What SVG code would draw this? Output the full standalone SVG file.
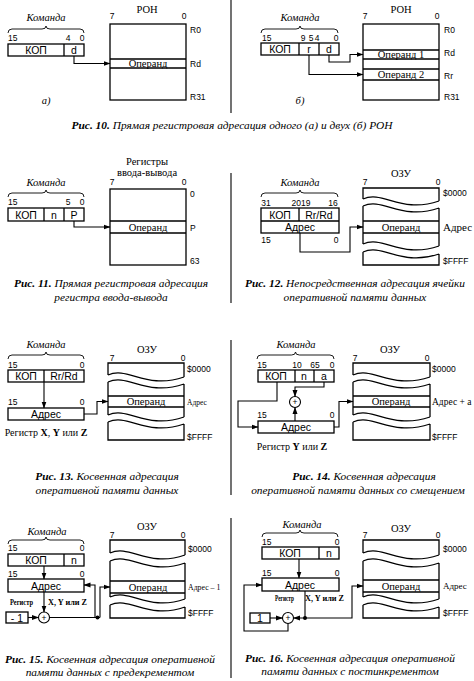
<svg xmlns="http://www.w3.org/2000/svg" width="474" height="681" viewBox="0 0 474 681">
<defs>
<style>
.b{fill:none;stroke:#000;stroke-width:1.3}
.l{fill:none;stroke:#000;stroke-width:1.1}
.br{fill:none;stroke:#000;stroke-width:0.9}
.s{font-family:"Liberation Sans",Arial,sans-serif;font-size:10.5px}
.n{font-family:"Liberation Sans",Arial,sans-serif;font-size:8.5px}
.r{font-family:"Liberation Serif","Times New Roman",serif;font-size:10.5px}
.i{font-family:"Liberation Serif","Times New Roman",serif;font-style:italic;font-size:10.5px}
.c{font-family:"Liberation Serif","Times New Roman",serif;font-style:italic;font-size:11.4px}
.g{font-family:"Liberation Serif","Times New Roman",serif;font-weight:bold;font-size:9px}
.m{text-anchor:middle}
</style>
<marker id="a" markerWidth="7" markerHeight="6" refX="6.5" refY="3" orient="auto" markerUnits="userSpaceOnUse"><path d="M0,0.5 L7,3 L0,5.5z"/></marker>
</defs>
<rect width="474" height="681" fill="#fff"/>

<g id="dividers" class="l">
<path d="M231,0 V113 M231,173 V303 M231,340 V495 M231,518 V678"/>
</g>

<!-- Fig 10 a -->
<g id="cmd10a">
<text class="i m" x="46" y="21">Команда</text>
<path class="br" d="M8,33 Q8,29 12,29 H42 Q46,29 46,26 Q46,29 50,29 H80 Q84,29 84,33"/>
<text class="n" x="8" y="41">15</text>
<text class="n m" x="68" y="41">4</text>
<text class="n m" x="82" y="41">0</text>
<rect class="b" x="8" y="44" width="76" height="12"/>
<path class="b" d="M64,44 V56"/>
<text class="s m" x="36" y="54">КОП</text>
<text class="s m" x="74" y="54">d</text>
</g>
<g id="ron10a">
<text class="r m" x="147" y="13">РОН</text>
<text class="n m" x="112" y="19">7</text>
<text class="n m" x="184" y="19">0</text>
<rect class="b" x="110" y="24" width="76" height="76"/>
<path class="b" d="M110,59 H186 M110,68 H186"/>
<text class="r m" x="148" y="67">Операнд</text>
<text class="n" x="190" y="33">R0</text>
<text class="n" x="190" y="67">Rd</text>
<text class="n" x="190" y="100">R31</text>
<text class="i m" x="46" y="104">а)</text>
</g>

<!-- Fig 10 b -->
<g id="cmd10b">
<text class="i m" x="300" y="21">Команда</text>
<path class="br" d="M261,33 Q261,29 265,29 H296 Q300,29 300,26 Q300,29 304,29 H334 Q338,29 338,33"/>
<text class="n" x="262" y="41">15</text>
<text class="n m" x="303" y="41">9</text>
<text class="n m" x="311" y="41">5</text>
<text class="n m" x="317" y="41">4</text>
<text class="n m" x="336" y="41">0</text>
<rect class="b" x="261" y="43" width="78" height="12"/>
<path class="b" d="M299,43 V55 M319,43 V55"/>
<text class="s m" x="280" y="53">КОП</text>
<text class="s m" x="309" y="53">r</text>
<text class="s m" x="329" y="53">d</text>
</g>
<g id="ron10b">
<text class="r m" x="401" y="13">РОН</text>
<text class="n m" x="365" y="19">7</text>
<text class="n m" x="437" y="19">0</text>
<rect class="b" x="363" y="24" width="76" height="76"/>
<path class="b" d="M363,50 H439 M363,59 H439 M363,69 H439 M363,80 H439"/>
<text class="r m" x="401" y="58">Операнд 1</text>
<text class="r m" x="401" y="78">Операнд 2</text>
<text class="n" x="444" y="33">R0</text>
<text class="n" x="444" y="56">Rd</text>
<text class="n" x="444" y="79">Rr</text>
<text class="n" x="444" y="100">R31</text>
<text class="i m" x="300" y="104">б)</text>
</g>
<text class="c m" x="232" y="129"><tspan font-weight="bold">Рис. 10.</tspan> Прямая регистровая адресация одного (а) и двух (б) РОН</text>

<!-- Fig 11 -->
<g id="cmd11">
<text class="i m" x="46" y="186">Команда</text>
<path class="br" d="M8,197 Q8,193 12,193 H42 Q46,193 46,190 Q46,193 50,193 H80 Q84,193 84,197"/>
<text class="n" x="8" y="205">15</text>
<text class="n m" x="68" y="205">5</text>
<text class="n m" x="82" y="205">0</text>
<rect class="b" x="8" y="208" width="76" height="13"/>
<path class="b" d="M44,208 V221 M64,208 V221"/>
<text class="s m" x="26" y="218.5">КОП</text>
<text class="s m" x="54" y="218.5">n</text>
<text class="s m" x="74" y="218.5">P</text>
</g>
<g id="io11">
<text class="r m" x="147" y="165">Регистры</text>
<text class="r m" x="147" y="176">ввода-вывода</text>
<text class="n m" x="112" y="185">7</text>
<text class="n m" x="184" y="185">0</text>
<rect class="b" x="110" y="189" width="76" height="76"/>
<path class="b" d="M110,221 H186 M110,233 H186"/>
<text class="r m" x="148" y="231">Операнд</text>
<text class="n" x="190" y="197">0</text>
<text class="n" x="190" y="231">P</text>
<text class="n" x="190" y="264">63</text>
</g>
<text class="c m" x="111" y="287"><tspan font-weight="bold">Рис. 11.</tspan> Прямая регистровая адресация</text>
<text class="c m" x="111" y="301">регистра ввода-вывода</text>

<!-- Fig 12 -->
<g id="cmd12">
<text class="i m" x="300" y="186">Команда</text>
<path class="br" d="M261,197 Q261,193 265,193 H296 Q300,193 300,190 Q300,193 304,193 H334 Q338,193 338,197"/>
<text class="n m" x="266" y="206">31</text>
<text class="n m" x="301" y="206">2019</text>
<text class="n m" x="333" y="206">16</text>
<rect class="b" x="261" y="208" width="78" height="25"/>
<path class="b" d="M261,221 H339 M299,208 V221"/>
<text class="s m" x="280" y="218.5">КОП</text>
<text class="s m" x="319" y="218.5">Rr/Rd</text>
<text class="s m" x="300" y="231">Адрес</text>
<text class="n m" x="266" y="243">15</text>
<text class="n m" x="336" y="243">0</text>
</g>
<g id="ram12">
<text class="r m" x="401" y="177">ОЗУ</text>
<text class="n m" x="365" y="185">7</text>
<text class="n m" x="438" y="185">0</text>
<path class="b" d="M363,199 V188 H439 V201 M363,199 c20,-9 38,15 76,2 M363,206 c20,-9 38,15 76,2 M363,206 V244 M439,208 V246 M363,244 c20,-9 38,15 76,2 M363,252 c20,-9 38,15 76,2 M363,252 V265 H439 V254 M363,221 H439 M363,233 H439"/>
<text class="r m" x="401" y="231">Операнд</text>
<text class="n" x="443" y="196">$0000</text>
<text class="r" x="443" y="231" style="font-size:11px">Адрес</text>
<text class="n" x="443" y="264">$FFFF</text>
</g>
<text class="c m" x="355" y="287"><tspan font-weight="bold">Рис. 12.</tspan> Непосредственная адресация ячейки</text>
<text class="c m" x="355" y="301">оперативной памяти данных</text>

<!-- Fig 13 -->
<g id="cmd13">
<text class="i m" x="46" y="348">Команда</text>
<path class="br" d="M8,359 Q8,355 12,355 H42 Q46,355 46,352 Q46,355 50,355 H80 Q84,355 84,359"/>
<text class="n" x="8" y="368">15</text>
<text class="n m" x="82" y="368">0</text>
<rect class="b" x="8" y="370" width="76" height="12"/>
<path class="b" d="M44,370 V382"/>
<text class="s m" x="26" y="380">КОП</text>
<text class="s m" x="64" y="380">Rr/Rd</text>
</g>
<g id="reg13">
<text class="n" x="8" y="405">15</text>
<text class="n m" x="82" y="405">0</text>
<rect class="b" x="8" y="408" width="76" height="12"/>
<text class="s m" x="46" y="418">Адрес</text>
<text class="r m" x="46" y="436" style="font-size:10px">Регистр <tspan font-weight="bold">X</tspan>, <tspan font-weight="bold">Y</tspan> или <tspan font-weight="bold">Z</tspan></text>
</g>
<g id="ram13">
<text class="r m" x="147" y="353">ОЗУ</text>
<text class="n m" x="112" y="361">7</text>
<text class="n m" x="183" y="361">0</text>
<path class="b" d="M108,375 V363 H184 V377 M108,375 c20,-9 38,15 76,2 M108,382 c20,-9 38,15 76,2 M108,382 V415 M184,384 V417 M108,415 c20,-9 38,15 76,2 M108,422 c20,-9 38,15 76,2 M108,422 V440 H184 V424 M108,396 H184 M108,407 H184"/>
<text class="r m" x="146" y="405">Операнд</text>
<text class="n" x="187" y="372">$0000</text>
<text class="r" x="187" y="405" style="font-size:7.5px">Адрес</text>
<text class="n" x="187" y="440">$FFFF</text>
</g>
<text class="c m" x="107" y="480"><tspan font-weight="bold">Рис. 13.</tspan> Косвенная адресация</text>
<text class="c m" x="107" y="494">оперативной памяти данных</text>

<!-- Fig 14 -->
<g id="cmd14">
<text class="i m" x="296" y="348">Команда</text>
<path class="br" d="M257,359 Q257,355 261,355 H291.5 Q295.5,355 295.5,352 Q295.5,355 299.5,355 H330 Q334,355 334,359"/>
<text class="n m" x="262" y="368">15</text>
<text class="n m" x="297" y="368">10</text>
<text class="n m" x="315" y="368">65</text>
<text class="n m" x="332" y="368">0</text>
<rect class="b" x="258" y="370" width="76" height="12"/>
<path class="b" d="M295,370 V382 M314,370 V382"/>
<text class="s m" x="276" y="380">КОП</text>
<text class="s m" x="304" y="380">n</text>
<text class="s m" x="324" y="380">a</text>
</g>
<g id="sum14">
<circle class="l" cx="295" cy="402" r="5.5"/>
<text class="n m" x="295" y="405">+</text>
</g>
<g id="reg14">
<text class="n m" x="262" y="418">15</text>
<text class="n m" x="332" y="418">0</text>
<rect class="b" x="258" y="421" width="76" height="12"/>
<text class="s m" x="296" y="431">Адрес</text>
<text class="r m" x="292" y="450" style="font-size:10px">Регистр <tspan font-weight="bold">Y</tspan> или <tspan font-weight="bold">Z</tspan></text>
</g>
<g id="ram14">
<text class="r m" x="390" y="353">ОЗУ</text>
<text class="n m" x="355" y="361">7</text>
<text class="n m" x="427" y="361">0</text>
<path class="b" d="M353,375 V363 H430 V377 M353,375 c20,-9 38,15 77,2 M353,382 c20,-9 38,15 77,2 M353,382 V415 M430,384 V417 M353,415 c20,-9 38,15 77,2 M353,422 c20,-9 38,15 77,2 M353,422 V440 H430 V424 M353,396 H430 M353,407 H430"/>
<text class="r m" x="391" y="405">Операнд</text>
<text class="n" x="432" y="372">$0000</text>
<text class="r" x="432" y="405" style="font-size:9.5px">Адрес + a</text>
<text class="n" x="432" y="440">$FFFF</text>
</g>
<text class="c m" x="364" y="480"><tspan font-weight="bold">Рис. 14.</tspan> Косвенная адресация</text>
<text class="c m" x="358" y="494">оперативной памяти данных со смещением</text>

<!-- Fig 15 -->
<g id="cmd15">
<text class="i m" x="47" y="535">Команда</text>
<path class="br" d="M8,544 Q8,540 12,540 H42 Q46,540 46,537 Q46,540 50,540 H80 Q84,540 84,544"/>
<text class="n" x="8" y="551">15</text>
<text class="n m" x="82" y="551">0</text>
<rect class="b" x="8" y="554" width="76" height="12"/>
<path class="b" d="M64,554 V566"/>
<text class="s m" x="36" y="564">КОП</text>
<text class="s m" x="74" y="564">n</text>
</g>
<g id="reg15">
<text class="n" x="8" y="577">15</text>
<text class="n m" x="82" y="577">0</text>
<rect class="b" x="8" y="579" width="76" height="13"/>
<text class="s m" x="46" y="589.5">Адрес</text>
<text class="g" x="10" y="605" textLength="23" lengthAdjust="spacingAndGlyphs">Регистр</text>
<text class="g" x="48" y="605" textLength="39" lengthAdjust="spacingAndGlyphs">X, Y или Z</text>
</g>
<g id="dec15">
<rect class="b" x="6" y="612" width="22" height="11"/>
<text class="s m" x="17" y="621.5">- 1</text>
</g>
<g id="sum15">
<circle class="l" cx="44" cy="617.5" r="5.5"/>
<text class="n m" x="44" y="620.5">+</text>
</g>
<g id="ram15">
<text class="r m" x="147" y="530">ОЗУ</text>
<text class="n m" x="112" y="538">7</text>
<text class="n m" x="183" y="538">0</text>
<path class="b" d="M110,553 V540 H185 V555 M110,553 c20,-9 38,15 75,2 M110,561 c20,-9 38,15 75,2 M110,561 V597 M185,563 V599 M110,597 c20,-9 38,15 75,2 M110,605 c20,-9 38,15 75,2 M110,605 V618 H185 V607 M110,581 H185 M110,593 H185"/>
<text class="r m" x="148" y="591">Операнд</text>
<text class="n" x="188" y="552">$0000</text>
<text class="r" x="188" y="590" style="font-size:7.8px">Адрес – 1</text>
<text class="n" x="188" y="616">$FFFF</text>
</g>
<text class="c m" x="110" y="663"><tspan font-weight="bold">Рис. 15.</tspan> Косвенная адресация оперативной</text>
<text class="c m" x="110" y="676">памяти данных с предекрементом</text>

<!-- Fig 16 -->
<g id="cmd16">
<text class="i m" x="302" y="528">Команда</text>
<path class="br" d="M262,537 Q262,533 266,533 H296 Q300,533 300,530 Q300,533 304,533 H334 Q338,533 338,537"/>
<text class="n" x="262" y="545">15</text>
<text class="n m" x="337" y="545">0</text>
<rect class="b" x="262" y="547" width="77" height="12"/>
<path class="b" d="M319,547 V559"/>
<text class="s m" x="290" y="557">КОП</text>
<text class="s m" x="329" y="557">n</text>
</g>
<g id="reg16">
<text class="n" x="262" y="576">15</text>
<text class="n m" x="337" y="576">0</text>
<rect class="b" x="262" y="578" width="77" height="13"/>
<text class="s m" x="300" y="588.5">Адрес</text>
<text class="g" x="275" y="601" textLength="19" lengthAdjust="spacingAndGlyphs">Регистр</text>
<text class="g" x="305" y="601" textLength="39" lengthAdjust="spacingAndGlyphs">X, Y или Z</text>
</g>
<g id="inc16">
<rect class="b" x="250" y="613" width="20" height="10"/>
<text class="s m" x="260" y="622">1</text>
</g>
<g id="sum16">
<circle class="l" cx="288" cy="618" r="5.5"/>
<text class="n m" x="288" y="621">+</text>
</g>
<g id="ram16">
<text class="r m" x="401" y="532">ОЗУ</text>
<text class="n m" x="365" y="538">7</text>
<text class="n m" x="438" y="538">0</text>
<path class="b" d="M363,553 V540 H439 V555 M363,553 c20,-9 38,15 76,2 M363,561 c20,-9 38,15 76,2 M363,561 V597 M439,563 V599 M363,597 c20,-9 38,15 76,2 M363,605 c20,-9 38,15 76,2 M363,605 V618 H439 V607 M363,580 H439 M363,592 H439"/>
<text class="r m" x="401" y="590">Операнд</text>
<text class="n" x="443" y="552">$0000</text>
<text class="r" x="443" y="589" style="font-size:9px">Адрес</text>
<text class="n" x="443" y="616">$FFFF</text>
</g>
<text class="c m" x="350" y="662"><tspan font-weight="bold">Рис. 16.</tspan> Косвенная адресация оперативной</text>
<text class="c m" x="350" y="675">памяти данных с постинкрементом</text>

<g id="connectors" class="l">
<path d="M74,56 V63.5 H110" marker-end="url(#a)"/>
<path d="M329,55 V62 H350 V54.5 H363" marker-end="url(#a)"/>
<path d="M309,55 V74.5 H363" marker-end="url(#a)"/>
<path d="M74,221 V227 H110" marker-end="url(#a)"/>
<path d="M300,233 V252 H350 V227 H363" marker-end="url(#a)"/>
<path d="M44,382 V408" marker-end="url(#a)"/>
<path d="M84,414 H97 V401.5 H108" marker-end="url(#a)"/>
<path d="M324,382 V387 H295 V396.5" marker-end="url(#a)"/>
<path d="M295,421 V407.5" marker-end="url(#a)"/>
<path d="M277,382 V401 H238 V427 H258" marker-end="url(#a)"/>
<path d="M334,427 H339 V401.5 H353" marker-end="url(#a)"/>
<path d="M44,566 V579" marker-end="url(#a)"/>
<path d="M44,592 V612" marker-end="url(#a)"/>
<path d="M28,617.5 H38.5" marker-end="url(#a)"/>
<path d="M49.5,617.5 H100"/>
<path d="M95,617.5 V585 H84" marker-end="url(#a)"/>
<path d="M100,617.5 V587 H110" marker-end="url(#a)"/>
<circle cx="97.5" cy="617.5" r="2" fill="#000" stroke="none"/>
<path d="M299,559 V578" marker-end="url(#a)"/>
<path d="M288,623.5 V631 H244 V585 H262" marker-end="url(#a)"/>
<path d="M270,618 H282.5" marker-end="url(#a)"/>
<path d="M305,591 V618 H293.5" marker-end="url(#a)"/>
<path d="M305,618 H352 V586 H363" marker-end="url(#a)"/>
<circle cx="305" cy="618" r="2" fill="#000" stroke="none"/>
</g>
</svg>
